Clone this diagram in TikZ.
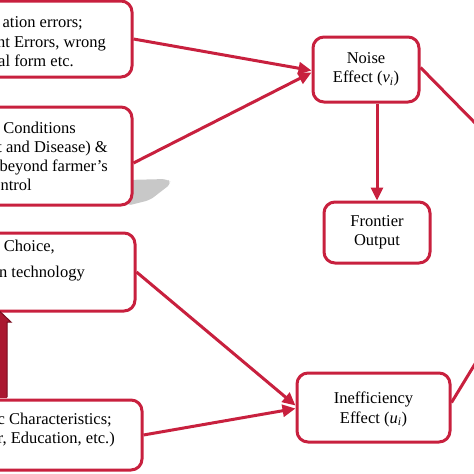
\documentclass[tikz,border=0pt]{standalone}
\usepackage{fontspec}
\setmainfont{Liberation Serif}
\usetikzlibrary{arrows.meta,calc}
\definecolor{crim}{RGB}{200,32,62}
\definecolor{darkcrim}{RGB}{170,24,48}
\definecolor{darkedge}{RGB}{120,12,30}
\definecolor{shadowgray}{RGB}{200,200,200}
\begin{document}
\begin{tikzpicture}[x=1pt,y=-1pt,
 box/.style={draw=crim,line width=3pt,rounded corners=11pt,fill=white,inner sep=0pt},
 lbl/.style={font=\fontsize{16.5}{19.5}\selectfont,inner sep=0pt,anchor=base east},
 ctr/.style={font=\fontsize{16.5}{19.5}\selectfont,align=center,inner sep=0pt},
 arr/.style={draw=crim,line width=3pt,-{Triangle[length=13pt,width=12pt]}},
 ln/.style={draw=crim,line width=3pt}]
\useasboundingbox (0,0) rectangle (474,474);
\clip (0,0) rectangle (474,474);
% shadow behind box 2
\fill[shadowgray,rounded corners=5pt] (126,180) -- (167,179) -- (172,183) -- (150,200) -- (126,206) -- cycle;
% left boxes
\node[box,minimum width=282pt,minimum height=76pt] (b1) at (-9,39) {};
\node[box,minimum width=282pt,minimum height=98pt] (b2) at (-9,156) {};
\node[box,minimum width=282pt,minimum height=78pt] (b3) at (-6,272) {};
\node[box,minimum width=282pt,minimum height=70pt] (b4) at (1,435) {};
% right boxes
\node[box,minimum width=106pt,minimum height=65pt] (noise) at (366,69.5) {};
\node[ctr] (noiset) at (noise.center) {Noise\\Effect (\textit{v}\textsubscript{\textit{i}})};
\node[box,minimum width=106pt,minimum height=61pt] (front) at (377,232.5) {};
\node[ctr] (frontt) at (front.center) {Frontier\\Output};
\node[box,minimum width=153pt,minimum height=69pt] (ineff) at (373.5,407.5) {};
\node[ctr] (innefft) at ([yshift=-2pt]ineff.center) {Inefficiency\\Effect (\textit{u}\textsubscript{\textit{i}})};
% texts of left boxes
\node[lbl] (t11) at (83,27) {ation errors;};
\node[lbl] (t12) at (106,47) {nt Errors, wrong};
\node[lbl] (t13) at (74,66) {al form etc.};
\node[lbl] (t21) at (76,133) {Conditions};
\node[lbl] (t22) at (108,152) {t and Disease) \&};
\node[lbl] (t23) at (108,171) {beyond farmer’s};
\node[lbl] (t24) at (32,190) {ntrol};
\node[lbl] (t31) at (55,251) {Choice,};
\node[lbl] (t32) at (85,277) {n technology};
\node[lbl] (t41) at (112,424) {c Characteristics;};
\node[lbl] (t42) at (115,443) {r, Education, etc.)};
% block arrow from b4 to b3
\fill[darkcrim] (-30,398) -- (7,398) -- (7,322) -- (11,322) -- (-8,304) -- (-30,322) -- cycle;
\draw[darkedge,line width=1pt] (7,397) -- (7,322) -- (11,322) -- (-8,304);
% connectors
\coordinate (o1) at (480,128);
\coordinate (o2) at (478,359);
\draw[arr] (b1.east) -- ([yshift=-1pt]noise.west);
\draw[arr] ([yshift=-7pt]b2.east) -- ([yshift=-3pt]noise.west);
\draw[arr] (b3.east) -- ([yshift=2pt]ineff.west);
\draw[arr] (b4.east) -- ([yshift=-1pt]ineff.west);
\draw[arr] (front.north |- noise.south) -- (front.north);
\draw[ln] ([yshift=2pt]noise.east) -- (o1);
\draw[ln] ([yshift=5pt]ineff.east) -- (o2);
\end{tikzpicture}
\end{document}
